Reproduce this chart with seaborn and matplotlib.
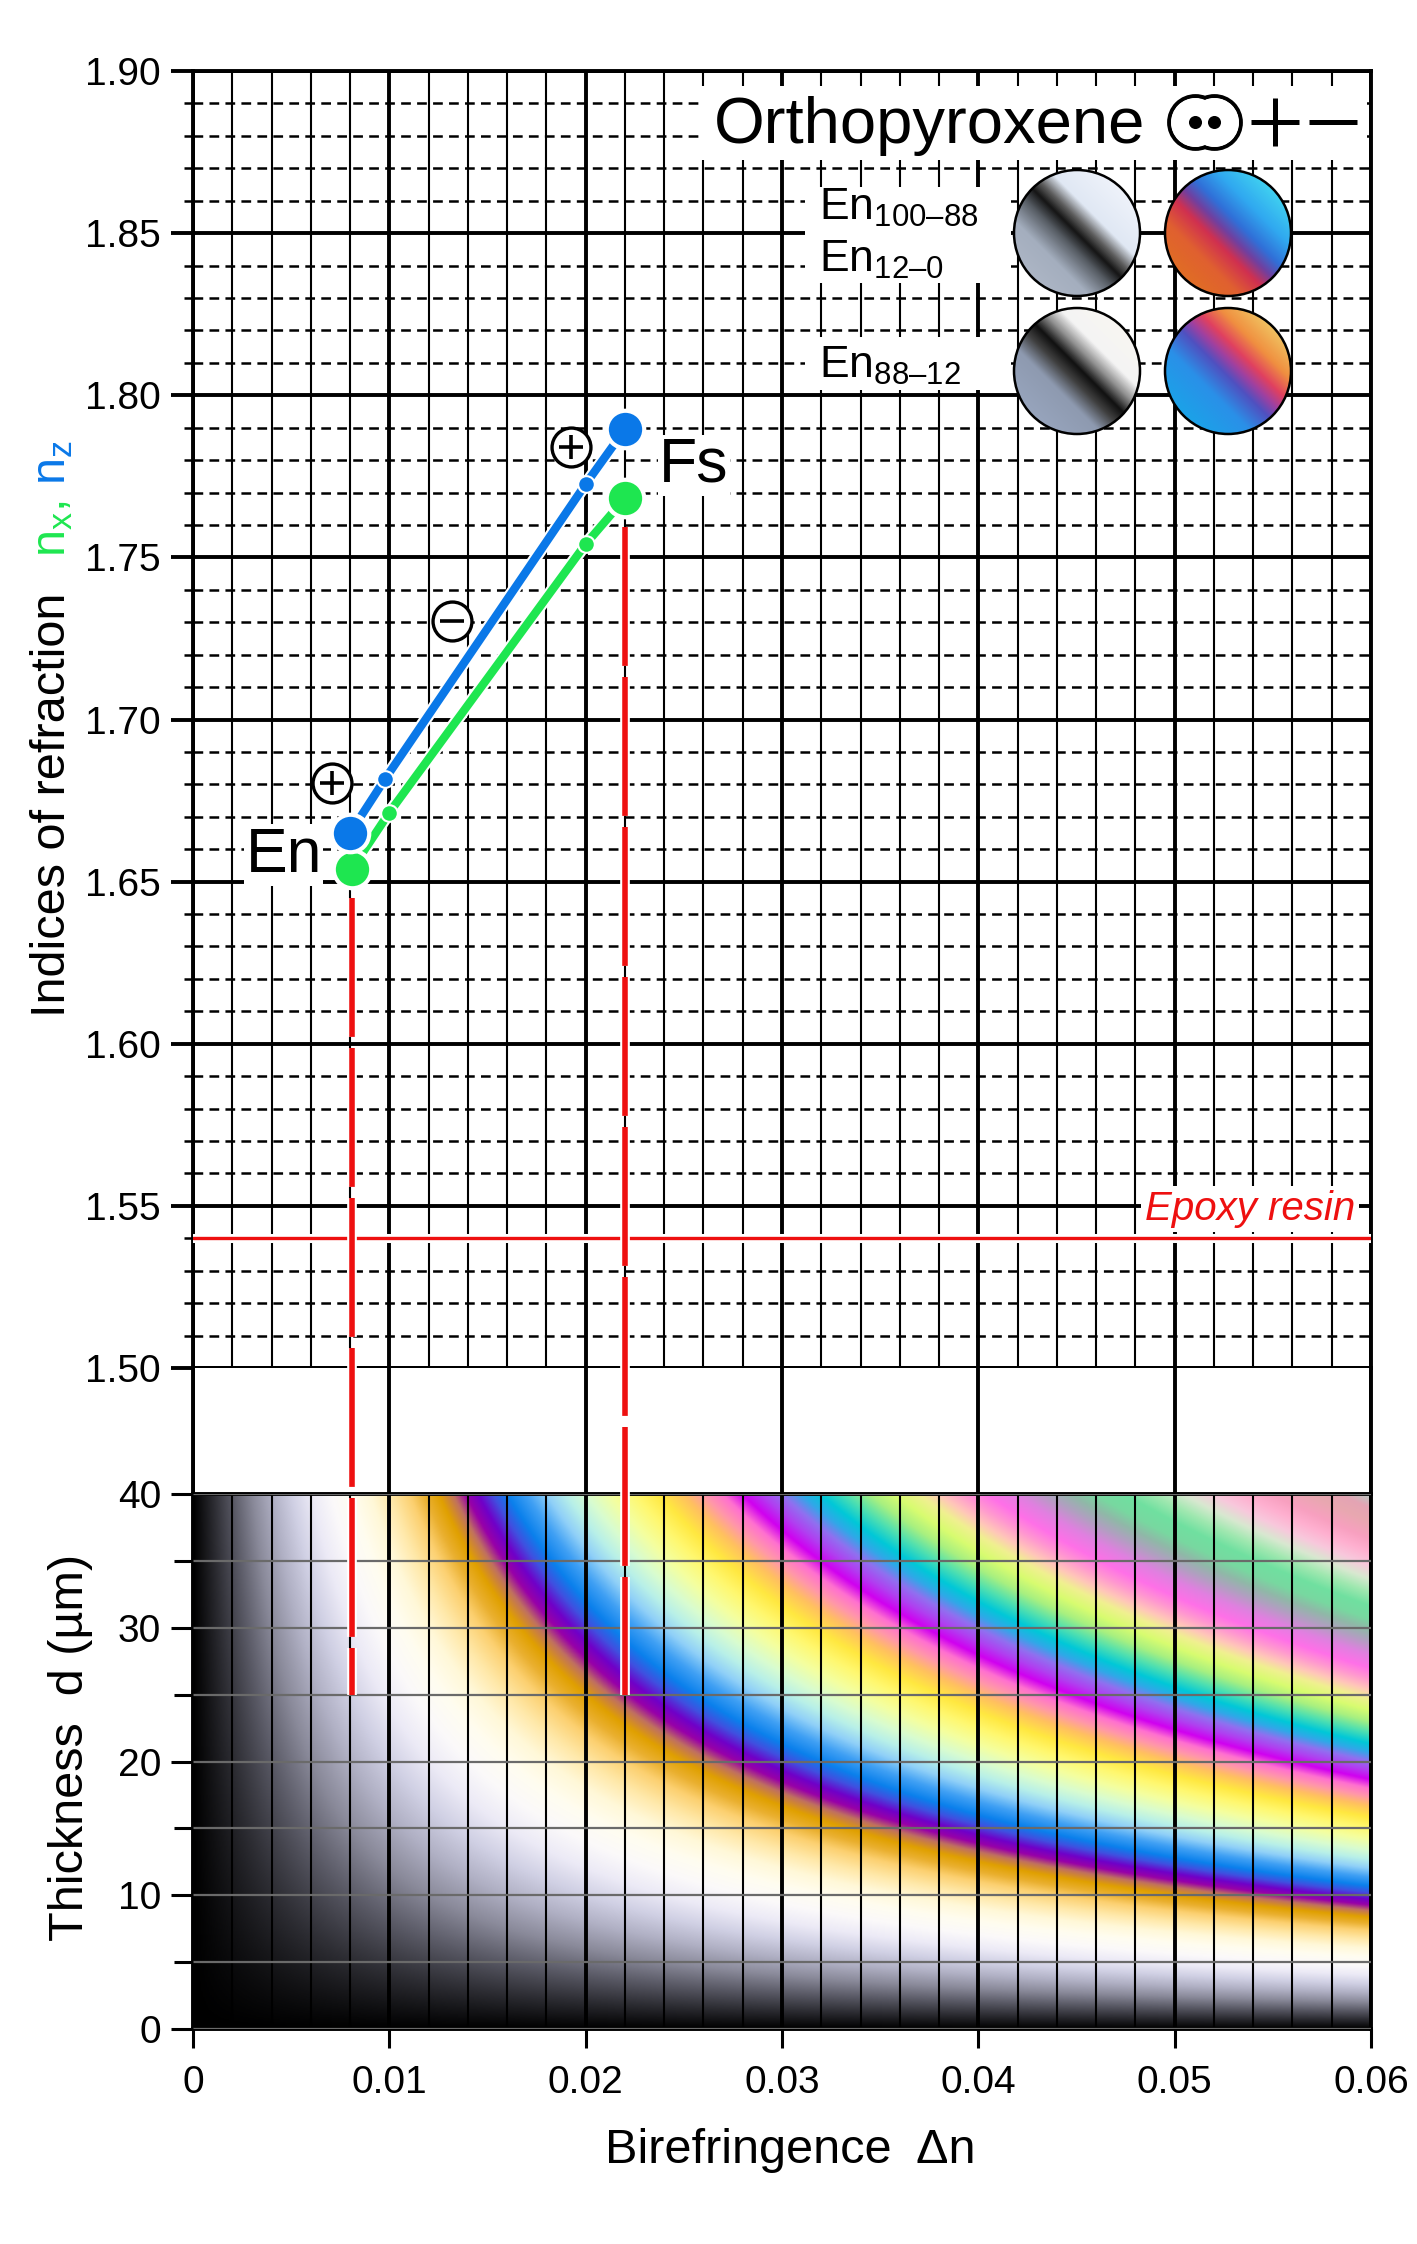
import numpy as np
import pandas as pd
import matplotlib
matplotlib.use("Agg")
import matplotlib.pyplot as plt
import matplotlib.patheffects as pe
from matplotlib.colors import LinearSegmentedColormap
from matplotlib.patches import Circle, Rectangle
from matplotlib.lines import Line2D
from matplotlib.ticker import MultipleLocator, FuncFormatter
import seaborn as sns

# n_z (blue) and n_x (green) from En to Fs
nz_dn = [0.0080, 0.0098, 0.0200, 0.0220]
nz_n = [1.665, 1.6818, 1.7726, 1.7895]
nx_dn = [0.0081, 0.0100, 0.0200, 0.0220]
nx_n = [1.654, 1.6713, 1.7541, 1.7682]

# optic sign markers along the series
sign_dn = [0.00709, 0.01318, 0.01923]
sign_n = [1.6805, 1.7305, 1.7841]
sign_kind = ["+", "-", "+"]

epoxy_n = 1.54
guide_dn = [0.0081, 0.0220]
guide_top_n = [1.645, 1.7595]
guide_bottom_d = 25.0

# interference colour stops (retardation in nm)
retard_nm = [0, 40, 80, 120, 160, 200, 240, 280, 320, 360, 400, 440, 470, 500,
             530, 555, 580, 610, 640, 680, 720, 760, 800, 850, 900, 950, 1000,
             1040, 1080, 1120, 1160, 1200, 1240, 1280, 1330, 1380, 1430, 1480,
             1520, 1570, 1620, 1680, 1740, 1790, 1840, 1900, 1960, 2020, 2080,
             2140, 2200, 2280, 2340, 2400]
retard_hex = ["#000000", "#2c2c32", "#5a5a66", "#8a8a9a", "#b0b0c4", "#d0d0e4",
              "#eceaf6", "#fbf9fa", "#fffdf0", "#fff8d8", "#ffe8a8", "#fcd070",
              "#eab030", "#e0a000", "#c07060", "#9800a8", "#7000c8", "#4050e0",
              "#0a80ec", "#40a0f4", "#90d0f8", "#b8f0e8", "#d8fcd0", "#f4ffa0",
              "#fff870", "#ffe840", "#ffc060", "#ff98a8", "#ff70d0", "#d000f0",
              "#b040f0", "#9070f0", "#30a8e8", "#00c8d8", "#50e0b0", "#a8f080",
              "#d8fc70", "#f0f090", "#ffc8b8", "#ff98d0", "#ff70e8", "#e080e0",
              "#b0a0c0", "#90b8a8", "#78d8a0", "#70e0a0", "#a0e8b0", "#d8e8d0",
              "#f8c8dc", "#ffb0d0", "#f8a0c0", "#e8a8b0", "#e4a4b4", "#b8ccc4"]

# conoscopic images: colour stops across the diagonal
cono_pos_tl = [0, 0.3, 0.42, 0.5, 0.56, 0.64, 0.85, 1]
cono_hex_tl = ["#b4bccb", "#a4aebe", "#5a6068", "#151515", "#606060", "#e0e8f4", "#eef2fa", "#f4e4d4"]
cono_pos_tr = [0, 0.3, 0.42, 0.5, 0.58, 0.7, 0.85, 1]
cono_hex_tr = ["#e07a1a", "#e06030", "#d03050", "#7040a0", "#3070d8", "#30a8f0", "#40d0f0", "#70ecd0"]
cono_pos_bl = [0, 0.35, 0.45, 0.52, 0.6, 0.68, 1]
cono_hex_bl = ["#9eacc6", "#8e9ab0", "#404040", "#101010", "#909090", "#f4f4f4", "#fcf8f0"]
cono_pos_br = [0, 0.35, 0.48, 0.55, 0.62, 0.72, 0.85, 1]
cono_hex_br = ["#10b0e8", "#2a90e8", "#5050c0", "#a040a0", "#e04060", "#f09040", "#f0c060", "#d8d0b0"]

BLUE = "#0a78e8"
GREEN = "#1ee650"
RED = "#ee1010"
W, H = 1417, 2244

sns.set_theme(style="white", rc={"axes.edgecolor": "black", "xtick.color": "black",
                                 "ytick.color": "black", "text.color": "black"})
plt.rcParams["font.family"] = ["Liberation Sans", "DejaVu Sans"]
plt.rcParams["mathtext.fontset"] = "custom"
plt.rcParams["mathtext.rm"] = "Liberation Sans"
plt.rcParams["mathtext.it"] = "Liberation Sans:italic"
plt.rcParams["lines.scale_dashes"] = False

fig = plt.figure(figsize=(W / 100, H / 100), dpi=100)
ax_top = fig.add_axes([0.1362, 0.39037, 0.8313, 0.57799])
ax_gap = fig.add_axes([0.1362, 0.33422, 0.8313, 0.05615])
ax_bot = fig.add_axes([0.1362, 0.09581, 0.8313, 0.23841])

for ax in (ax_top, ax_gap, ax_bot):
    ax.set_xlim(0, 0.06)
    ax.xaxis.set_major_locator(MultipleLocator(0.01))
    ax.xaxis.set_minor_locator(MultipleLocator(0.002))
    for s in ax.spines.values():
        s.set_linewidth(2.8)
        s.set_color("black")

# ---- refractive index panel ----
ax_top.set_ylim(1.5, 1.9)
ax_top.yaxis.set_major_locator(MultipleLocator(0.05))
ax_top.yaxis.set_minor_locator(MultipleLocator(0.01))
ax_top.set_axisbelow(True)
ax_top.grid(which="major", axis="both", color="black", lw=2.8, ls="-")
ax_top.grid(which="minor", axis="x", color="black", lw=1.5, ls="-")
ax_top.grid(which="minor", axis="y", color="black", lw=1.8, ls=(0, (7, 4.5)))
ax_top.tick_params(axis="x", which="both", length=0, labelbottom=False)
ax_top.tick_params(axis="y", which="major", left=True, length=16, width=2.8, pad=7, labelsize=28)
ax_top.tick_params(axis="y", which="minor", left=True, length=6.5, width=1.8)

halo = [pe.Stroke(linewidth=9, foreground="white"), pe.Normal()]
lines = pd.DataFrame({"dn": nx_dn + nz_dn, "n": nx_n + nz_n,
                      "series": ["nx"] * len(nx_dn) + ["nz"] * len(nz_dn)})
for name, col in (("nx", GREEN), ("nz", BLUE)):
    sub = lines[lines["series"] == name]
    sns.lineplot(data=sub, x="dn", y="n", ax=ax_top, color=col, lw=6, sort=False,
                 zorder=4, path_effects=halo)
    ax_top.plot(sub["dn"].iloc[1:3], sub["n"].iloc[1:3], "o", ms=12, mfc=col, mec="white",
                mew=1.5, zorder=5)
ax_top.plot([nx_dn[0], nx_dn[-1]], [nx_n[0], nx_n[-1]], "o", ms=27, mfc=GREEN, mec="white",
            mew=3, zorder=6)
ax_top.plot([nz_dn[0], nz_dn[-1]], [nz_n[0], nz_n[-1]], "o", ms=27, mfc=BLUE, mec="white",
            mew=3, zorder=7)
ax_top.set_xlabel("")
ax_top.set_ylabel("")

for x, y, k in zip(sign_dn, sign_n, sign_kind):
    ax_top.plot(x, y, "o", ms=28, mfc="white", mec="black", mew=2.4, zorder=6)
    ax_top.plot(x, y, marker="+" if k == "+" else "_", ms=17, mew=2.6, color="black", zorder=7)

box = dict(facecolor="white", edgecolor="none", pad=1)
ax_top.text(0.00268, 1.6531, "En", fontsize=45, ha="left", va="baseline", bbox=box, zorder=5)
ax_top.text(0.02375, 1.7733, "Fs", fontsize=45, ha="left", va="baseline", bbox=box, zorder=5)

ax_top.axhline(epoxy_n, color=RED, lw=2.4, zorder=4,
               path_effects=[pe.Stroke(linewidth=6.5, foreground="white"), pe.Normal()])
ax_top.text(0.05918, 1.5456, "Epoxy resin", color=RED, fontsize=29, style="italic",
            ha="right", va="baseline", bbox=dict(facecolor="white", edgecolor="none", pad=3),
            zorder=5)

# title block and legend of interference figures
ax_top.add_patch(Rectangle((0.02581, 1.87255), 0.03401, 0.02282, facecolor="white",
                           edgecolor="none", zorder=3))
ax_top.add_patch(Rectangle((0.03116, 1.8346), 0.01053, 0.0296, facecolor="white",
                           edgecolor="none", zorder=3))
ax_top.add_patch(Rectangle((0.03116, 1.8016), 0.01053, 0.0164, facecolor="white",
                           edgecolor="none", zorder=3))
ax_top.text(0.02652, 1.8778, "Orthopyroxene", fontsize=47, ha="left", va="baseline", zorder=4)
ax_top.text(0.03187, 1.85405, "En$_{\\rm 100–88}$", fontsize=32, ha="left", va="baseline", zorder=4)
ax_top.text(0.03187, 1.8380, "En$_{\\rm 12–0}$", fontsize=32, ha="left", va="baseline", zorder=4)
ax_top.text(0.03187, 1.80532, "En$_{\\rm 88–12}$", fontsize=32, ha="left", va="baseline", zorder=4)

# biaxial symbol and signs
sym_x = [0.051035, 0.052028]
sym_y = 1.8843
ax_top.plot(sym_x, [sym_y] * 2, "o", ms=38, mfc="white", mec="black", mew=2.9, zorder=4)
ax_top.plot(sym_x, [sym_y] * 2, "o", ms=35.2, mfc="white", mec="none", zorder=5)
ax_top.plot(sym_x, [sym_y] * 2, "o", ms=9.4, mfc="black", mec="none", zorder=6)
ax_top.plot(0.055133, sym_y, marker="+", ms=34.5, mew=3.6, color="black", zorder=6)
ax_top.plot(0.058086, sym_y, marker="_", ms=34, mew=3.6, color="black", zorder=6)

# ---- spacer between the panels ----
ax_gap.set_ylim(0, 1)
ax_gap.grid(which="major", axis="x", color="black", lw=2.8)
ax_gap.grid(False, axis="y")
ax_gap.tick_params(which="both", length=0, labelbottom=False, labelleft=False)
ax_gap.spines["top"].set_visible(False)
ax_gap.spines["bottom"].set_visible(False)

# ---- Michel-Levy panel ----
ml_cmap = LinearSegmentedColormap.from_list(
    "michel_levy", list(zip(np.array(retard_nm) / retard_nm[-1], retard_hex)), N=4096)
dn_axis = np.linspace(0, 0.06, 721)
d_axis = np.linspace(0, 40, 481)
retard = np.outer(d_axis, dn_axis) * 1000.0
ax_bot.imshow(retard, extent=[0, 0.06, 0, 40], origin="lower", aspect="auto", cmap=ml_cmap,
              vmin=0, vmax=retard_nm[-1], interpolation="bilinear", zorder=0)
ax_bot.set_xlim(0, 0.06)
ax_bot.set_ylim(0, 40)
ax_bot.yaxis.set_major_locator(MultipleLocator(10))
ax_bot.yaxis.set_minor_locator(MultipleLocator(5))
ax_bot.set_axisbelow(False)
ax_bot.grid(which="both", axis="y", color="#6a6a6a", lw=1.6)
ax_bot.grid(which="major", axis="x", color="black", lw=2.8)
ax_bot.grid(which="minor", axis="x", color="black", lw=1.5)
ax_bot.xaxis.set_major_formatter(FuncFormatter(lambda v, _: "0" if abs(v) < 1e-9 else f"{v:.2f}"))
ax_bot.tick_params(axis="x", which="major", bottom=True, length=14, width=2.2, pad=12, labelsize=28)
ax_bot.tick_params(axis="x", which="minor", length=0)
ax_bot.tick_params(axis="y", which="major", left=True, length=16, width=2.2, pad=7, labelsize=28)
ax_bot.tick_params(axis="y", which="minor", left=True, length=14, width=2.2)

# red guide lines from the end members down into the colour chart
to_fig = fig.transFigure.inverted()
for x, ytop in zip(guide_dn, guide_top_n):
    p0 = to_fig.transform(ax_top.transData.transform((x, ytop)))
    p1 = to_fig.transform(ax_bot.transData.transform((x, guide_bottom_d)))
    fig.add_artist(Line2D([p0[0], p1[0]], [p0[1], p1[1]], transform=fig.transFigure,
                          color=RED, lw=4, ls=(0, (100, 8)), zorder=8,
                          path_effects=[pe.Stroke(linewidth=7, foreground="white"), pe.Normal()]))


def conoscope(cx, cy, pos, hexes, size=126):
    ax = fig.add_axes([(cx - size / 2) / W, 1 - (cy + size / 2) / H, size / W, size / H])
    cmap = LinearSegmentedColormap.from_list("cono", list(zip(pos, hexes)))
    g = np.linspace(0, 1, 200)
    gx, gy = np.meshgrid(g, g)
    im = ax.imshow((gx + gy) / 2, origin="lower", extent=[0, 1, 0, 1], cmap=cmap,
                   vmin=0, vmax=1, aspect="auto")
    clip = Circle((0.5, 0.5), 0.5, transform=ax.transAxes)
    im.set_clip_path(clip)
    ax.add_patch(Circle((0.5, 0.5), 0.5, transform=ax.transAxes, facecolor="none",
                        edgecolor="black", lw=1.8, clip_on=False))
    ax.set_axis_off()


conoscope(1077, 233, cono_pos_tl, cono_hex_tl)
conoscope(1228, 233, cono_pos_tr, cono_hex_tr)
conoscope(1077, 371, cono_pos_bl, cono_hex_bl)
conoscope(1228, 371, cono_pos_br, cono_hex_br)

# axis labels
fig.text(790 / W, 1 - 2163 / H, "Birefringence  Δn", fontsize=35, ha="center", va="baseline")
fig.text(83 / W, 1 - 1747 / H, "Thickness  d (µm)", fontsize=35, rotation=90,
         rotation_mode="anchor", ha="center", va="baseline")

renderer = fig.canvas.get_renderer()
parts = [("Indices of refraction", "black", 0), ("n$_{\\rm x}$,", GREEN, 36), ("n$_{\\rm z}$", BLUE, 15)]
y_px = H - 1017
for txt, col, gap in parts:
    y_px += gap
    t = fig.text(65 / W, y_px / H, txt, color=col, fontsize=35, rotation=90,
                 rotation_mode="anchor", ha="left", va="baseline")
    y_px = t.get_window_extent(renderer).y1

fig.savefig("out.png", dpi=100)
